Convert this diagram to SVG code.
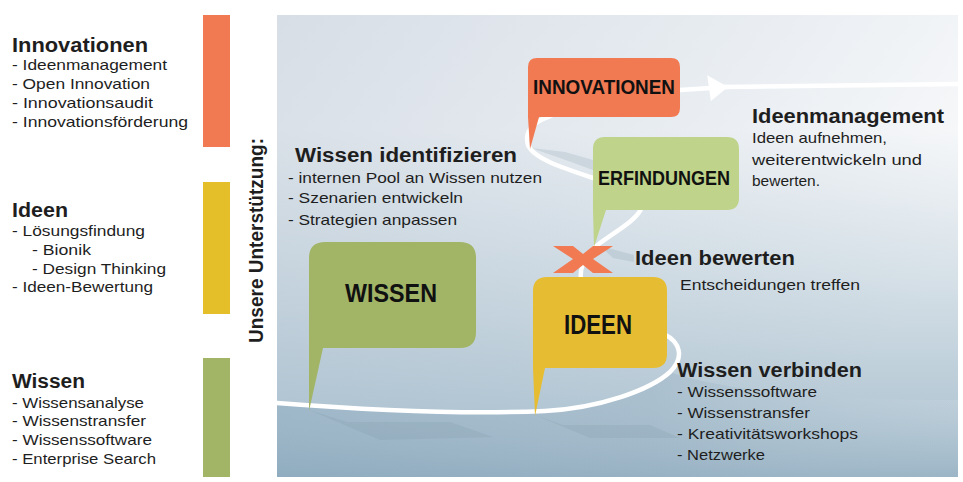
<svg xmlns="http://www.w3.org/2000/svg" width="963" height="482" viewBox="0 0 963 482">
<defs>
<style>
.t{font-family:"Liberation Sans",Arial,sans-serif;fill:#1e1e1e}
.h{font-size:20px;font-weight:bold}
.i{font-size:15px}
.lbl{font-family:"Liberation Sans",Arial,sans-serif;font-weight:bold;fill:#111;text-anchor:middle}
.curve{fill:none;stroke:#fff;stroke-width:4.5;stroke-linecap:round}
.shadow{fill:#7f95a5;opacity:0.2}
</style>
<linearGradient id="bg" x1="0" y1="0" x2="1" y2="0.5">
<stop offset="0" stop-color="#d7dee6"/>
<stop offset="0.5" stop-color="#e6ebf0"/>
<stop offset="1" stop-color="#f9fafb"/>
</linearGradient>
<linearGradient id="shade" x1="0" y1="0" x2="0" y2="1">
<stop offset="0.25" stop-color="#a3bbcb" stop-opacity="0"/>
<stop offset="1" stop-color="#a0b9c9" stop-opacity="0.95"/>
</linearGradient>
<linearGradient id="ground" gradientUnits="userSpaceOnUse" x1="277" y1="0" x2="958" y2="0">
<stop offset="0" stop-color="#93afc2"/>
<stop offset="0.55" stop-color="#9fb7c8"/>
<stop offset="1" stop-color="#aac0ce" stop-opacity="0"/>
</linearGradient>
<linearGradient id="groundv" x1="0" y1="0" x2="0" y2="1">
<stop offset="0" stop-color="#ffffff" stop-opacity="0.12"/>
<stop offset="1" stop-color="#86a4b9" stop-opacity="0.3"/>
</linearGradient>
<marker id="arr" viewBox="0 0 20 26" refX="19" refY="13" markerWidth="20" markerHeight="26" markerUnits="userSpaceOnUse" orient="auto">
<path d="M0,0 L20,13 L2,26 Z" fill="#fff"/>
</marker>
</defs>

<rect width="963" height="482" fill="#fff"/>

<!-- left column -->
<g id="legend">
<rect x="203" y="15" width="27" height="132" fill="#f27a53"/>
<rect x="203" y="182" width="27" height="132" fill="#e5bf2a"/>
<rect x="203" y="358" width="27" height="119" fill="#a2b567"/>
<text class="t h" x="12" y="52" textLength="136" lengthAdjust="spacingAndGlyphs">Innovationen</text>
<text class="t i" x="12" y="70" textLength="155" lengthAdjust="spacingAndGlyphs">- Ideenmanagement</text>
<text class="t i" x="12" y="89" textLength="138" lengthAdjust="spacingAndGlyphs">- Open Innovation</text>
<text class="t i" x="12" y="108" textLength="141" lengthAdjust="spacingAndGlyphs">- Innovationsaudit</text>
<text class="t i" x="12" y="127" textLength="176" lengthAdjust="spacingAndGlyphs">- Innovationsförderung</text>
<text class="t h" x="12" y="217" textLength="56" lengthAdjust="spacingAndGlyphs">Ideen</text>
<text class="t i" x="12" y="236" textLength="133" lengthAdjust="spacingAndGlyphs">- Lösungsfindung</text>
<text class="t i" x="32" y="255" textLength="59" lengthAdjust="spacingAndGlyphs">- Bionik</text>
<text class="t i" x="32" y="274" textLength="134" lengthAdjust="spacingAndGlyphs">- Design Thinking</text>
<text class="t i" x="12" y="292" textLength="141" lengthAdjust="spacingAndGlyphs">- Ideen-Bewertung</text>
<text class="t h" x="12" y="388" textLength="73" lengthAdjust="spacingAndGlyphs">Wissen</text>
<text class="t i" x="12" y="408" textLength="132" lengthAdjust="spacingAndGlyphs">- Wissensanalyse</text>
<text class="t i" x="12" y="426" textLength="134" lengthAdjust="spacingAndGlyphs">- Wissenstransfer</text>
<text class="t i" x="12" y="445" textLength="140" lengthAdjust="spacingAndGlyphs">- Wissenssoftware</text>
<text class="t i" x="12" y="464" textLength="144" lengthAdjust="spacingAndGlyphs">- Enterprise Search</text>
<text class="t" x="0" y="0" transform="translate(263,343) rotate(-90)" font-size="20" font-weight="bold" textLength="205" lengthAdjust="spacingAndGlyphs">Unsere Unterstützung:</text>
</g>

<!-- panel background -->
<g id="panel">
<rect x="277" y="15" width="681" height="462" fill="url(#bg)"/>
<rect x="277" y="15" width="681" height="462" fill="url(#shade)"/>
<path d="M277,403 C380,411 480,414 545,411 C600,408 650,390 670,372 C720,390 820,400 958,400 L958,477 L277,477 Z" fill="url(#ground)"/>
<path d="M277,403 C380,411 480,414 545,411 C600,408 650,390 670,372 C720,390 820,400 958,400 L958,477 L277,477 Z" fill="url(#groundv)"/>
<polygon class="shadow" points="309,410 347,422 450,422 493,437 380,440"/>
<polygon class="shadow" points="535,415 563,425 650,425 680,438 590,438"/>
<polygon class="shadow" points="600,246 634,255 634,262 613,258"/>
<polygon class="shadow" points="531,148 565,152 593,160 593,170 560,158"/>
</g>

<!-- connectors -->
<g id="connectors">
<path class="curve" d="M277,403 C380,411 480,414 545,411 C600,408 650,390 670,372 C685,357 680,342 664,334 C630,318 585,300 581,280 C579,265 588,252 600,243 C618,230 636,220 641,209 C645,195 620,185 593,178 C560,167 533,158 528,145 C524,132 533,122 548,117 C570,105 650,92 680,90"/>
<path class="curve" stroke-width="3.5" d="M680,90 L727,87" marker-end="url(#arr)"/>
<path class="curve" stroke-width="3.5" d="M722,87 L958,84"/>
</g>

<!-- nodes -->
<g id="node-innovationen">
<path d="M528,67 Q528,58 537,58 H671 Q680,58 680,67 V108 Q680,117 671,117 H539 L530,149 L528,117 Z" fill="#f27a53"/>
<text class="lbl" x="604" y="94" font-size="21" textLength="142" lengthAdjust="spacingAndGlyphs">INNOVATIONEN</text>
</g>
<g id="node-erfindungen">
<path d="M593,149 Q593,137 605,137 H727 Q739,137 739,149 V198 Q739,210 727,210 H606 L594,247 L593,210 Z" fill="#bfd48a"/>
<text class="lbl" x="664" y="185" font-size="21" textLength="132" lengthAdjust="spacingAndGlyphs">ERFINDUNGEN</text>
</g>
<g id="node-bewerten-x">
<polygon points="553,246 573,246 583,254 593,246 613,246 593,259 613,273 593,273 583,265 573,273 553,273 573,259" fill="#f27a53"/>
</g>
<g id="node-ideen">
<path d="M533,291 Q533,277 547,277 H653 Q667,277 667,291 V354 Q667,368 653,368 H545 L535,416 L533,368 Z" fill="#e6bd32"/>
<text class="lbl" x="598" y="334" font-size="27" textLength="68" lengthAdjust="spacingAndGlyphs">IDEEN</text>
</g>
<g id="node-wissen">
<path d="M309,258 Q309,242 325,242 H460 Q476,242 476,258 V332 Q476,348 460,348 H323 L309,411 Z" fill="#a2b567"/>
<text class="lbl" x="391" y="302" font-size="26" textLength="92" lengthAdjust="spacingAndGlyphs">WISSEN</text>
</g>

<!-- annotations -->
<g id="text-wissen-identifizieren">
<text class="t h" x="295" y="162" textLength="222" lengthAdjust="spacingAndGlyphs">Wissen identifizieren</text>
<text class="t i" x="288" y="183" textLength="254" lengthAdjust="spacingAndGlyphs">- internen Pool an Wissen nutzen</text>
<text class="t i" x="288" y="203" textLength="175" lengthAdjust="spacingAndGlyphs">- Szenarien entwickeln</text>
<text class="t i" x="288" y="225" textLength="169" lengthAdjust="spacingAndGlyphs">- Strategien anpassen</text>
</g>
<g id="text-ideenmanagement">
<text class="t h" x="752" y="123" textLength="192" lengthAdjust="spacingAndGlyphs">Ideenmanagement</text>
<text class="t i" x="752" y="143" textLength="135" lengthAdjust="spacingAndGlyphs">Ideen aufnehmen,</text>
<text class="t i" x="752" y="165" textLength="170" lengthAdjust="spacingAndGlyphs">weiterentwickeln und</text>
<text class="t i" x="752" y="186" textLength="68" lengthAdjust="spacingAndGlyphs">bewerten.</text>
</g>
<g id="text-ideen-bewerten">
<text class="t h" x="635" y="265" textLength="160" lengthAdjust="spacingAndGlyphs">Ideen bewerten</text>
<text class="t i" x="680" y="290" textLength="180" lengthAdjust="spacingAndGlyphs">Entscheidungen treffen</text>
</g>
<g id="text-wissen-verbinden">
<text class="t h" x="677" y="377" textLength="185" lengthAdjust="spacingAndGlyphs">Wissen verbinden</text>
<text class="t i" x="677" y="397" textLength="140" lengthAdjust="spacingAndGlyphs">- Wissenssoftware</text>
<text class="t i" x="677" y="418" textLength="133" lengthAdjust="spacingAndGlyphs">- Wissenstransfer</text>
<text class="t i" x="677" y="439" textLength="181" lengthAdjust="spacingAndGlyphs">- Kreativitätsworkshops</text>
<text class="t i" x="677" y="460" textLength="88" lengthAdjust="spacingAndGlyphs">- Netzwerke</text>
</g>
</svg>
